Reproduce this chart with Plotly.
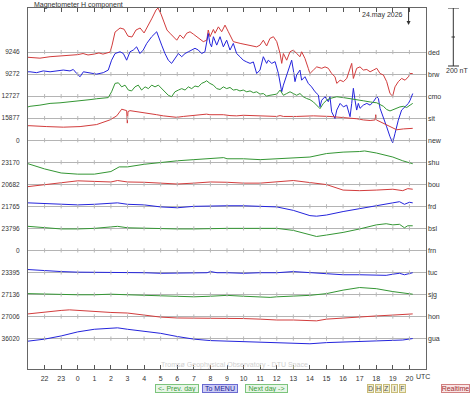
import plotly.graph_objects as go

# ---------------- data ----------------
stations = ["ded", "brw", "cmo", "sit", "new", "shu", "bou", "frd",
            "bsl", "frn", "tuc", "sjg", "hon", "gua"]
base_values = ["9246", "9272", "12727", "15877", "0", "23170", "20682", "21765",
               "23796", "0", "23395", "27136", "27006", "36020"]
hour_ticks = list(range(-2, 21))
hour_labels = ["22", "23"] + [str(h) for h in range(0, 21)]

ded_t = [-3.0, -2.28, -1.67, -1.01, -0.47, -0.02, 0.32, 0.62, 0.98, 1.28, 1.52, 1.76, 1.95,
         2.07, 2.25, 2.55, 2.79, 3.03, 3.27, 3.51, 3.76, 4.0, 4.24, 4.48, 4.72, 4.84, 5.02,
         5.2, 5.38, 5.56, 5.75, 5.97, 6.17, 6.37, 6.57, 6.77, 6.97, 7.17, 7.37, 7.57, 7.78,
         7.87, 7.98, 8.18, 8.28, 8.48, 8.68, 8.88, 9.08,
         9.18, 9.38, 9.79, 9.99, 10.39, 10.79, 10.99, 11.19, 11.39, 11.59, 11.80, 12.0, 12.2,
         12.3, 12.4, 12.6, 12.8, 13.0, 13.2, 13.4, 13.5, 13.7, 13.9, 14.0, 14.21, 14.41, 14.71,
         14.91, 15.11, 15.31, 15.51, 15.62, 15.82, 16.02, 16.22, 16.42, 16.52, 16.62, 16.82,
         17.02, 17.22, 17.43, 17.63, 17.83, 18.03, 18.23, 18.43, 18.63, 18.83, 18.99, 19.13,
         19.33, 19.53, 19.74, 19.94, 20.04, 20.2]
ded_v = [-18, -21, -16, -14, -11, -9, -5, -10, -7, -3, -7, -2, 0,
         24, 69, 83, 79, 55, 52, 76, 83, 66, 90, 117, 145, 152, 131,
         103, 76, 65, 53, 41, 59, 47, 65, 70, 62, 53, 44, 36, 41,
         76, 53, 78, 65, 87, 70, 93, 70,
         59, 36, 30, 28, 23, 18, 24, 41, 21, 47, 53, 36, -5,
         -39, -5, -28, 1, 7, -5, -16, 1, -22, -56, -74, -62, -51, -56,
         -51, -56, -74, -85, -108, -97, -102, -91, -51, -39, -91, -56,
         -51, -62, -60, -68, -62, -56, -74, -79, -102, -143, -152, -120,
         -102, -91, -97, -85, -74, -74]

brw_t = [-3.0, -2.88, -2.48, -2.08, -1.67, -1.27, -0.87, -0.47, -0.27, -0.06, 0.14, 0.34, 0.74,
         1.14, 1.54, 1.84, 2.04, 2.25, 2.55, 2.75, 2.95, 3.15, 3.35, 3.55, 3.75, 3.95, 4.16,
         4.46, 4.76, 4.86, 5.06, 5.26, 5.46, 5.66, 5.86, 6.07, 6.27, 6.47, 6.67, 6.87, 7.07,
         7.27, 7.47, 7.67, 7.77, 7.87, 7.97, 8.07, 8.18, 8.38, 8.58, 8.78, 8.98, 9.18, 9.38,
         9.58, 9.78, 9.98, 10.19, 10.39, 10.59, 10.79, 10.99, 11.19, 11.39,
         11.49, 11.70, 11.90, 12.1, 12.2, 12.3, 12.4, 12.6, 12.8, 12.9, 13.0, 13.1, 13.2, 13.4,
         13.5, 13.7, 13.9, 14.1, 14.31, 14.51, 14.61, 14.71, 14.91, 15.11, 15.21, 15.31, 15.51,
         15.62, 15.82, 16.02, 16.22, 16.42, 16.52, 16.62, 16.72, 16.82, 16.92, 17.02, 17.22,
         17.43, 17.63, 17.83, 18.03, 18.13, 18.23, 18.43, 18.63, 18.83, 18.99, 19.13, 19.33,
         19.53, 19.74, 19.94, 20.04, 20.2]
brw_v = [8, 8, 5, 11, 8, 11, 14, 11, 16, 2, -9, 8, 5,
         0, 5, 14, 48, 71, 77, 71, 48, 77, 83, 94, 71, 83, 106,
         129, 146, 129, 100, 71, 48, 37, 54, 71, 60, 71, 77, 83, 89,
         83, 71, 77, 117, 140, 106, 94, 129, 100, 129, 94, 117, 83, 106,
         71, 60, 48, 42, 37, 42, 2, 14, 60, 37,
         48, 37, 43, 2, -32, -61, -38, -3, 37, 48, 14, -26, -3, 14,
         -21, -9, -32, -44, -61, -72, -113, -90, -78, -95, -78, -130, -153,
         -124, -101, -113, -107, -147, -101, -49, -90, -124, -101, -118, -107,
         -101, -107, -95, -78, -84, -118, -147, -182, -216, -237, -205, -159,
         -124, -113, -101, -90, -67]

cmo_t = [-3.0, -2.88, -2.28, -1.67, -1.07, -0.47, 0.14, 0.74, 1.14, 1.54, 1.84, 2.04, 2.25,
         2.45, 2.65, 2.85, 3.05, 3.25, 3.45, 3.65, 3.85, 4.06, 4.26, 4.46, 4.66, 4.86, 5.06,
         5.26, 5.46, 5.66, 5.86, 6.07, 6.27, 6.47, 6.67, 6.87, 7.07, 7.27, 7.47, 7.67, 7.77,
         7.97, 8.18, 8.38, 8.58, 8.78, 8.98, 9.18, 9.38, 9.58, 9.78, 9.98, 10.19, 10.39, 10.59,
         10.79, 10.99, 11.19, 11.39,
         11.59, 12.0, 12.2, 12.3, 12.4, 12.6, 12.8, 13.0, 13.2, 13.4, 13.6, 13.8, 14.0, 14.21,
         14.41, 14.61, 14.81, 15.01, 15.21, 15.41, 15.62, 16.02, 16.42, 16.82, 17.22, 17.63,
         18.03, 18.43, 18.63, 18.83, 19.03, 19.23, 19.43, 19.64, 19.84, 20.04, 20.2]
cmo_v = [-37, -35, -31, -25, -23, -20, -16, -12, -9, -7, -5, 15, 44,
         46, 32, 38, 21, 18, 32, 38, 21, 32, 26, 38, 32, 38, 26,
         15, 3, -2, 15, 21, 26, 21, 32, 26, 35, 32, 44, 49, 53,
         44, 38, 26, 23, 32, 26, 30, 21, 23, 18, 21, 15, 18, 12,
         15, 7, 9, 0,
         3, 7, 21, 9, 3, 9, 15, 9, 3, 9, -2, -8, -12, -20,
         -31, -43, -25, -14, -8, -5, -2, -5, -8, -12, -16, -20,
         -23, -35, -46, -51, -46, -43, -37, -35, -39, -31, -25]

sit_t = [-3.0, -2.88, -1.87, -0.87, 0.14, 1.14, 1.94, 2.35, 2.65, 2.85, 2.95, 2.99, 3.03,
         3.15, 3.55, 3.95, 4.36, 4.76, 5.16, 5.56, 5.96, 6.37, 6.77, 7.17, 7.57, 7.77, 7.97,
         8.38, 8.78, 9.18, 9.58, 9.98, 10.39, 10.79, 11.19,
         11.59, 12.0, 12.2, 12.4, 13.2, 14.21, 15.21, 16.22, 16.82, 17.22, 17.63, 17.93, 17.97,
         18.01, 18.23, 18.63, 19.03, 19.23, 19.64, 20.04, 20.2]
sit_v = [-26, -26, -29, -31, -29, -22, -6, 8, 31, 29, 26, -17, 23,
         26, 23, 20, 15, 12, 8, 6, 3, 6, 8, 10, 12, 14, 12,
         13, 12, 9, 8, 10, 9, 7, 8,
         6, 6, 9, 6, 6, 8, 6, 2, -2, -6, -8, -6, 12,
         -6, -12, -23, -35, -40, -37, -35, -35]

shu_t = [-3, -2, -1, 0, 1, 2, 2.5, 3, 4, 5, 6, 7, 8, 8.8, 9, 10, 11, 12, 13, 14, 15, 16,
         17, 17.3, 18, 19, 19.6, 20.2]
shu_v = [-5, -23, -37, -41, -41, -32, -16, -16, -7, 0, 5, 9, 12, 16, 12, 12, 9, 12, 14, 18,
         30, 35, 37, 39, 32, 18, 5, -5]

bou_t = [-3, -2, -1, 0, 1, 2, 2.4, 3, 4, 5, 6, 7, 8, 9, 10, 11, 12, 13, 14, 15, 16, 17, 18,
         19, 19.6, 19.9, 20.2]
bou_v = [-8, -1, 6, 12, 10, 8, 13, 8, 7, 4, 1, 4, 8, 7, 4, 4, 8, 13, 6, -1, -20, -22, -20,
         -17, -22, -15, -17]

frd_t = [-3, -2, -1, 0, 1, 2, 2.4, 3, 4, 5, 6, 7, 8, 9, 10, 11, 12, 13, 14, 14.4, 15, 16,
         17, 18, 19, 19.4, 19.7, 20, 20.2]
frd_v = [12, 9, 7, 5, 7, 9, 12, 7, 5, -2, -5, 0, 2, 2, 2, 0, -2, -14, -32, -34, -30, -18,
         -7, 2, 12, 16, 7, 14, 12]

bsl_t = [-3, -2, -1, 0, 1, 2, 2.4, 3, 4, 5, 6, 7, 8, 8.8, 9, 10, 11, 12, 13, 14, 14.4, 15,
         16, 17, 18, 18.6, 19, 19.4, 19.7, 19.9, 20.2]
bsl_v = [7, 2, -2, -2, 0, 5, 7, 2, 0, -2, -2, -2, 0, 2, 0, 0, 0, 0, -7, -23, -28, -23,
         -14, -2, 12, 16, 12, 14, 2, 9, 9]

tuc_t = [-3, -2, -1, 0, 1, 2, 2.4, 3, 4, 5, 6, 7, 7.8, 8, 8.4, 9, 10, 11, 12, 13, 14, 15,
         16, 17, 18, 18.6, 19, 19.4, 19.7, 20.2]
tuc_v = [10, 6, 3, 1, 1, -1, 1, -1, -1, -3, -3, -3, -1, 3, -1, -1, -3, -1, -1, 3, -1, -3,
         -8, -8, -8, -10, -6, -3, -8, -1]

sjg_t = [-3, -2, -1, 0, 1, 2, 3, 4, 5, 6, 7, 8, 9, 10, 11, 11.6, 12, 13, 14, 15, 16, 17,
         18, 19, 19.6, 20.2]
sjg_v = [3, 1, -1, -1, -1, 1, -1, -3, -6, -6, -8, -6, -3, -6, -8, -10, -8, -6, -3, 3, 15,
         24, 20, 10, 6, 1]

hon_t = [-3, -2, -1, -0.5, 0, 1, 2, 3, 4, 5, 6, 7, 8, 9, 10, 11, 12, 13, 14, 14.4, 15, 16,
         17, 18, 19, 19.6, 20.2]
hon_v = [9, 16, 21, 23, 21, 16, 14, 12, 5, -2, -5, -5, -5, -5, -7, -9, -12, -12, -14, -15,
         -9, -5, 0, 2, 5, 7, 9]

gua_t = [-3, -2, -1, 0, 1, 2, 2.4, 3, 4, 5, 6, 7, 8, 9, 10, 11, 12, 13, 14, 15, 16, 17, 18,
         19, 19.6, 20.2]
gua_v = [-9, -2, 9, 23, 32, 35, 37, 32, 25, 18, 7, -2, -7, -9, -12, -14, -16, -16, -18,
         -14, -12, -9, -9, -7, -5, 0]

series = {
    "ded": (ded_t, ded_v), "brw": (brw_t, brw_v), "cmo": (cmo_t, cmo_v),
    "sit": (sit_t, sit_v), "shu": (shu_t, shu_v), "bou": (bou_t, bou_v),
    "frd": (frd_t, frd_v), "bsl": (bsl_t, bsl_v), "tuc": (tuc_t, tuc_v),
    "sjg": (sjg_t, sjg_v), "hon": (hon_t, hon_v), "gua": (gua_t, gua_v),
}

date_text = "24.may 2026"
now_hour = 19.95
scale_nT = 200

# ---------------- layout constants ----------------
W, H = 474, 396
ML, MR, MT, MB = 28, 48, 8, 27
PW, PH = W - ML - MR, H - MT - MB
Y_MIN, Y_MAX = -1245, 0
TOP_OFF, STEP = 152, 76
baselines = [-(TOP_OFF + STEP * i) for i in range(len(stations))]
palette = ["#d23c3c", "#2424dc", "#349634"]
FONT = "Liberation Sans"


def px_x(p):
    return (p - ML) / PW


def px_y(p):
    return (H - MB - p) / PH


def px_to_nt(p):
    return Y_MAX - (p - MT) * (Y_MAX - Y_MIN) / PH


fig = go.Figure()

for i, st in enumerate(stations):
    if st not in series:
        continue
    t, v = series[st]
    fig.add_trace(go.Scatter(x=t, y=[val + baselines[i] for val in v], mode="lines",
                             line=dict(color=palette[i % 3], width=1),
                             hoverinfo="skip", showlegend=False))

# hour ticks on baselines (also binds the right-hand axis)
tx, ty = [], []
for b in baselines:
    for h in hour_ticks:
        tx.append(h)
        ty.append(b)
fig.add_trace(go.Scatter(x=tx, y=ty, mode="markers", yaxis="y2",
                         marker=dict(symbol="line-ns", size=3,
                                     line=dict(color="#b8b8b8", width=1)),
                         hoverinfo="skip", showlegend=False))

fig.update_layout(
    width=W, height=H,
    margin=dict(l=ML, r=MR, t=MT, b=MB, pad=0, autoexpand=False),
    paper_bgcolor="white", plot_bgcolor="white",
    font=dict(family=FONT, size=7, color="#333333"),
    xaxis=dict(range=[-3, 21], tickvals=hour_ticks, ticktext=hour_labels,
               ticks="inside", ticklen=4, tickcolor="#555555", tickwidth=1,
               showline=True, linecolor="#666666", linewidth=1, mirror="ticks",
               showgrid=False, zeroline=False, tickfont=dict(size=7, color="#333333"),
               ticklabelstandoff=3, automargin=False),
    yaxis=dict(range=[Y_MIN, Y_MAX], tickvals=baselines, ticktext=base_values,
               ticks="", showline=True, linecolor="#666666", linewidth=1, mirror=True,
               showgrid=True, gridcolor="#b4b4b4", gridwidth=1, zeroline=False,
               tickfont=dict(size=6.5, color="#333333"), ticklabelstandoff=6,
               automargin=False),
    yaxis2=dict(range=[Y_MIN, Y_MAX], overlaying="y", side="right",
                tickvals=baselines, ticktext=stations, ticks="", showline=False,
                showgrid=False, zeroline=False, tickfont=dict(size=7, color="#333333"),
                ticklabelstandoff=1, automargin=False),
)

ann = []
ann.append(dict(text="Magnetometer H component", xref="paper", yref="paper",
                x=px_x(32), y=px_y(5), xanchor="left", yanchor="middle",
                showarrow=False, font=dict(size=7, color="#333333")))
ann.append(dict(text=date_text, xref="paper", yref="paper", x=px_x(405), y=px_y(15),
                xanchor="right", yanchor="middle", showarrow=False,
                font=dict(size=7, color="#333333")))
ann.append(dict(text="", x=now_hour, y=px_to_nt(25), xref="x", yref="y",
                showarrow=True, ax=0, ay=-19, arrowhead=2, arrowsize=0.8,
                arrowwidth=1, arrowcolor="#333333"))
ann.append(dict(text="UTC", xref="paper", yref="paper", x=px_x(423), y=px_y(376),
                xanchor="center", yanchor="middle", showarrow=False,
                font=dict(size=7, color="#333333")))
ann.append(dict(text="Tromsø Geophysical Observatory - DTU Space", xref="paper",
                yref="paper", x=px_x(234), y=px_y(364.5), xanchor="center",
                yanchor="middle", showarrow=False, font=dict(size=7, color="#d0d0d0")))
ann.append(dict(text=f"{scale_nT} nT", xref="paper", yref="y", x=px_x(457),
                y=px_to_nt(70.5), xanchor="center", yanchor="middle", showarrow=False,
                font=dict(size=7, color="#333333")))

btn_y = px_y(388.5)
buttons = [
    ("&lt;- Prev. day", 177, 42, "#e8f6e8", "#7cc47c", "#3c9c3c"),
    ("To MENU", 219.5, 34, "#ccccf6", "#6a6ad0", "#202090"),
    ("Next day -&gt;", 266, 41, "#e8f6e8", "#7cc47c", "#3c9c3c"),
    ("D", 370, 5, "#f2eed0", "#c8bc78", "#555555"),
    ("H", 378, 5, "#f2eed0", "#c8bc78", "#555555"),
    ("Z", 386, 5, "#f2eed0", "#c8bc78", "#555555"),
    ("I", 394, 5, "#f2eed0", "#c8bc78", "#555555"),
    ("F", 402, 5, "#f2eed0", "#c8bc78", "#555555"),
    ("Realtime", 455.5, 27, "#fbe6e6", "#d08080", "#a03030"),
]
for txt, cx, w, bg, bc, fc in buttons:
    ann.append(dict(text=txt, xref="paper", yref="paper", x=px_x(cx), y=btn_y,
                    xanchor="center", yanchor="middle", showarrow=False, width=w,
                    height=7, bgcolor=bg, bordercolor=bc, borderwidth=1, borderpad=0,
                    font=dict(size=7, color=fc)))
fig.update_layout(annotations=ann)

# scale bar
sx = px_x(453.3)
shapes = [
    dict(type="line", xref="paper", yref="y", x0=sx, x1=sx, y0=0, y1=-scale_nT),
    dict(type="line", xref="paper", yref="y", x0=px_x(448), x1=px_x(459), y0=0, y1=0),
    dict(type="line", xref="paper", yref="y", x0=px_x(448), x1=px_x(459),
         y0=-scale_nT, y1=-scale_nT),
    dict(type="line", xref="paper", yref="y", x0=px_x(451.5), x1=px_x(455),
         y0=-scale_nT / 2, y1=-scale_nT / 2),
]
for s in shapes:
    s["line"] = dict(color="#333333", width=1)
fig.update_layout(shapes=shapes)

fig.write_html("out.html")
